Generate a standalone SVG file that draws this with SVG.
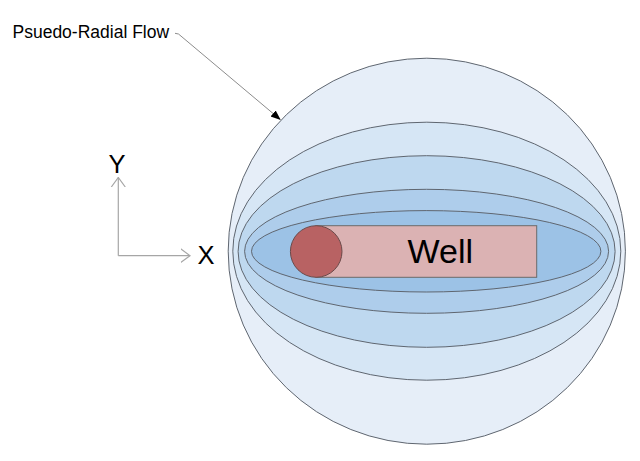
<svg xmlns="http://www.w3.org/2000/svg" width="640" height="461" viewBox="0 0 640 461">
  <style>
    .zone { stroke: #5f6670; stroke-width: 1; }
    .axis { stroke: #a6a6a6; stroke-width: 1.2; fill: none; }
    .lbl { font-family: "Liberation Sans", Arial, sans-serif; fill: #000; }
  </style>
  <defs>
    <marker id="arrowFill" viewBox="0 0 10 10" refX="9" refY="5" markerWidth="10" markerHeight="10" markerUnits="userSpaceOnUse" orient="auto">
      <path d="M0,1 L10,5 L0,9 Z" fill="#000"/>
    </marker>
    <marker id="arrowOpen" viewBox="0 0 10 16" refX="9.5" refY="8" markerWidth="10" markerHeight="16" markerUnits="userSpaceOnUse" orient="auto">
      <path d="M0,1 L9.5,8 L0,15" fill="none" stroke="#a6a6a6" stroke-width="1.2"/>
    </marker>
  </defs>
  <rect width="640" height="461" fill="#ffffff"/>

  <g id="flow-zones">
    <ellipse id="zone-radial" class="zone" cx="426.8" cy="251.2" rx="198.6" ry="193" fill="#e6eef8"/>
    <ellipse id="zone-1" class="zone" cx="426.8" cy="251.2" rx="194" ry="129" fill="#d6e6f5"/>
    <ellipse id="zone-2" class="zone" cx="426.6" cy="251.5" rx="188.5" ry="95.8" fill="#bed8ef"/>
    <ellipse id="zone-3" class="zone" cx="426.6" cy="251.3" rx="182" ry="62" fill="#aecdeb"/>
    <ellipse id="zone-4" class="zone" cx="426.2" cy="251.3" rx="174.7" ry="40.7" fill="#9cc2e6"/>
  </g>

  <g id="well">
    <rect x="316" y="225.7" width="220.7" height="51.6" fill="#dbb2b3" stroke="#6b6b6b" stroke-width="1"/>
    <circle cx="316.2" cy="251.5" r="25.8" fill="#b86263" stroke="#6b4a4a" stroke-width="1"/>
    <text class="lbl" x="407.5" y="263.3" font-size="34">Well</text>
  </g>

  <g id="axes">
    <text class="lbl" x="108.5" y="173.3" font-size="25.5">Y</text>
    <text class="lbl" x="197.5" y="264.3" font-size="25.5">X</text>
  </g>

  <g id="label-radial">
    <text class="lbl" x="12.5" y="38.3" font-size="17.5">Psuedo-Radial Flow</text>
  </g>

  <g id="connectors">
    <path class="axis" d="M118.3,255.7 L118.3,177.5" marker-end="url(#arrowOpen)"/>
    <path class="axis" d="M118.3,255.7 L190,255.7" marker-end="url(#arrowOpen)"/>
    <path d="M175,33.3 L178.5,34 L280,119.3" fill="none" stroke="#8c8c8c" stroke-width="1" marker-end="url(#arrowFill)"/>
  </g>
</svg>
